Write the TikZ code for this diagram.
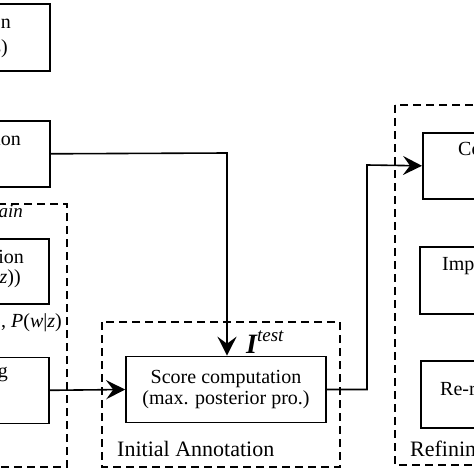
\documentclass[tikz,border=0pt]{standalone}
\usepackage{fontspec}
\setmainfont{Liberation Serif}
\usetikzlibrary{arrows.meta}
\begin{document}
\begin{tikzpicture}[x=1pt,y=-1pt,
  box/.style={draw, line width=1.6pt, rectangle, inner sep=0pt},
  grp/.style={draw, line width=2.6pt, dash pattern=on 8pt off 5pt},
  arr/.style={line width=1.6pt, -{Stealth[length=19pt,width=19pt,inset=7pt]}},
  txt/.style={font=\fontsize{20}{21}\selectfont, inner sep=0pt},
  lbl/.style={font=\fontsize{22}{24}\selectfont, inner sep=0pt}]
\useasboundingbox (0,0) rectangle (474,474);
\clip (0,0) rectangle (474,474);
% group frames
\draw[grp] (-100,204) rectangle (67,467);
\draw[grp] (102,322) rectangle (340,467);
\draw[grp] (395,105) rectangle (620,465);
% left boxes
\node[box, anchor=north west, minimum width=199pt, minimum height=67pt] (b1) at (-150,3) {};
\node[box, anchor=north west, minimum width=199pt, minimum height=66pt] (b2) at (-150,120) {};
\node[box, anchor=north west, minimum width=198pt, minimum height=65pt] (b3) at (-150,238) {};
\node[box, anchor=north west, minimum width=198pt, minimum height=66pt] (b4) at (-150,356.5) {};
% middle box
\node[box, minimum width=200pt, minimum height=66pt, align=center, txt] (score) at (226,389.5)
  {Score computation\\(max. posterior pro.)};
% right boxes
\node[box, anchor=north west, minimum width=200pt, minimum height=66pt] (r1) at (422,132) {};
\node[box, anchor=north west, minimum width=200pt, minimum height=67pt] (r2) at (419,246) {};
\node[box, anchor=north west, minimum width=200pt, minimum height=67pt] (r3) at (420,360) {};
% texts of left boxes
\node[txt, anchor=base east] (t1a) at (11,28) {Codebook generation};
\node[txt, anchor=base east] (t1b) at (8,53) {(k-means)};
\node[txt, anchor=base east] (t2) at (21,145) {Feature extraction};
\node[txt, anchor=base east] (t3a) at (24,263) {Model estimation};
\node[txt, anchor=base east] (t3b) at (21,283) {(PLSA(\textit{d},\textit{w},\textit{z}))};
\node[txt, anchor=base east] (t3c) at (62,327) {\textit{P}(\textit{z}|\textit{d}), \textit{P}(\textit{w}|\textit{z})};
\node[txt, anchor=base east] (t4) at (8,377) {Learning};
\node[inner sep=0pt, anchor=base east] (ltrain) at (23,229)
  {{\fontsize{28}{28}\selectfont\bfseries\itshape I}\raisebox{12pt}{\fontsize{19}{19}\selectfont\itshape train}};
% texts of right boxes
\node[txt, anchor=base west] (tr1) at (458,155) {Co-occurrence};
\node[txt, anchor=base west] (tr2) at (442,270) {Improved};
\node[txt, anchor=base west] (tr3) at (440,395) {Re-ranking};
% group labels
\node[lbl, anchor=base west] (linit) at (117,456) {Initial Annotation};
\node[lbl, anchor=base west] (lref) at (410,456) {Refining Annotation};
\node[inner sep=0pt, anchor=base west] (ltest) at (246,353)
  {{\fontsize{28}{28}\selectfont\bfseries\itshape I}\raisebox{12pt}{\fontsize{19}{19}\selectfont\itshape test}};
% connectors
\coordinate (c1) at (227,153);
\draw[arr] (b2.east) -- (c1) -- (score.north -| c1);
\draw[arr] (b4.east) -- (score.west);
\coordinate (c2) at (367,389.5);
\coordinate (c3) at (367,165);
\draw[arr] (score.east) -- (c2) -- (c3) -- (r1.west);
\end{tikzpicture}
\end{document}
